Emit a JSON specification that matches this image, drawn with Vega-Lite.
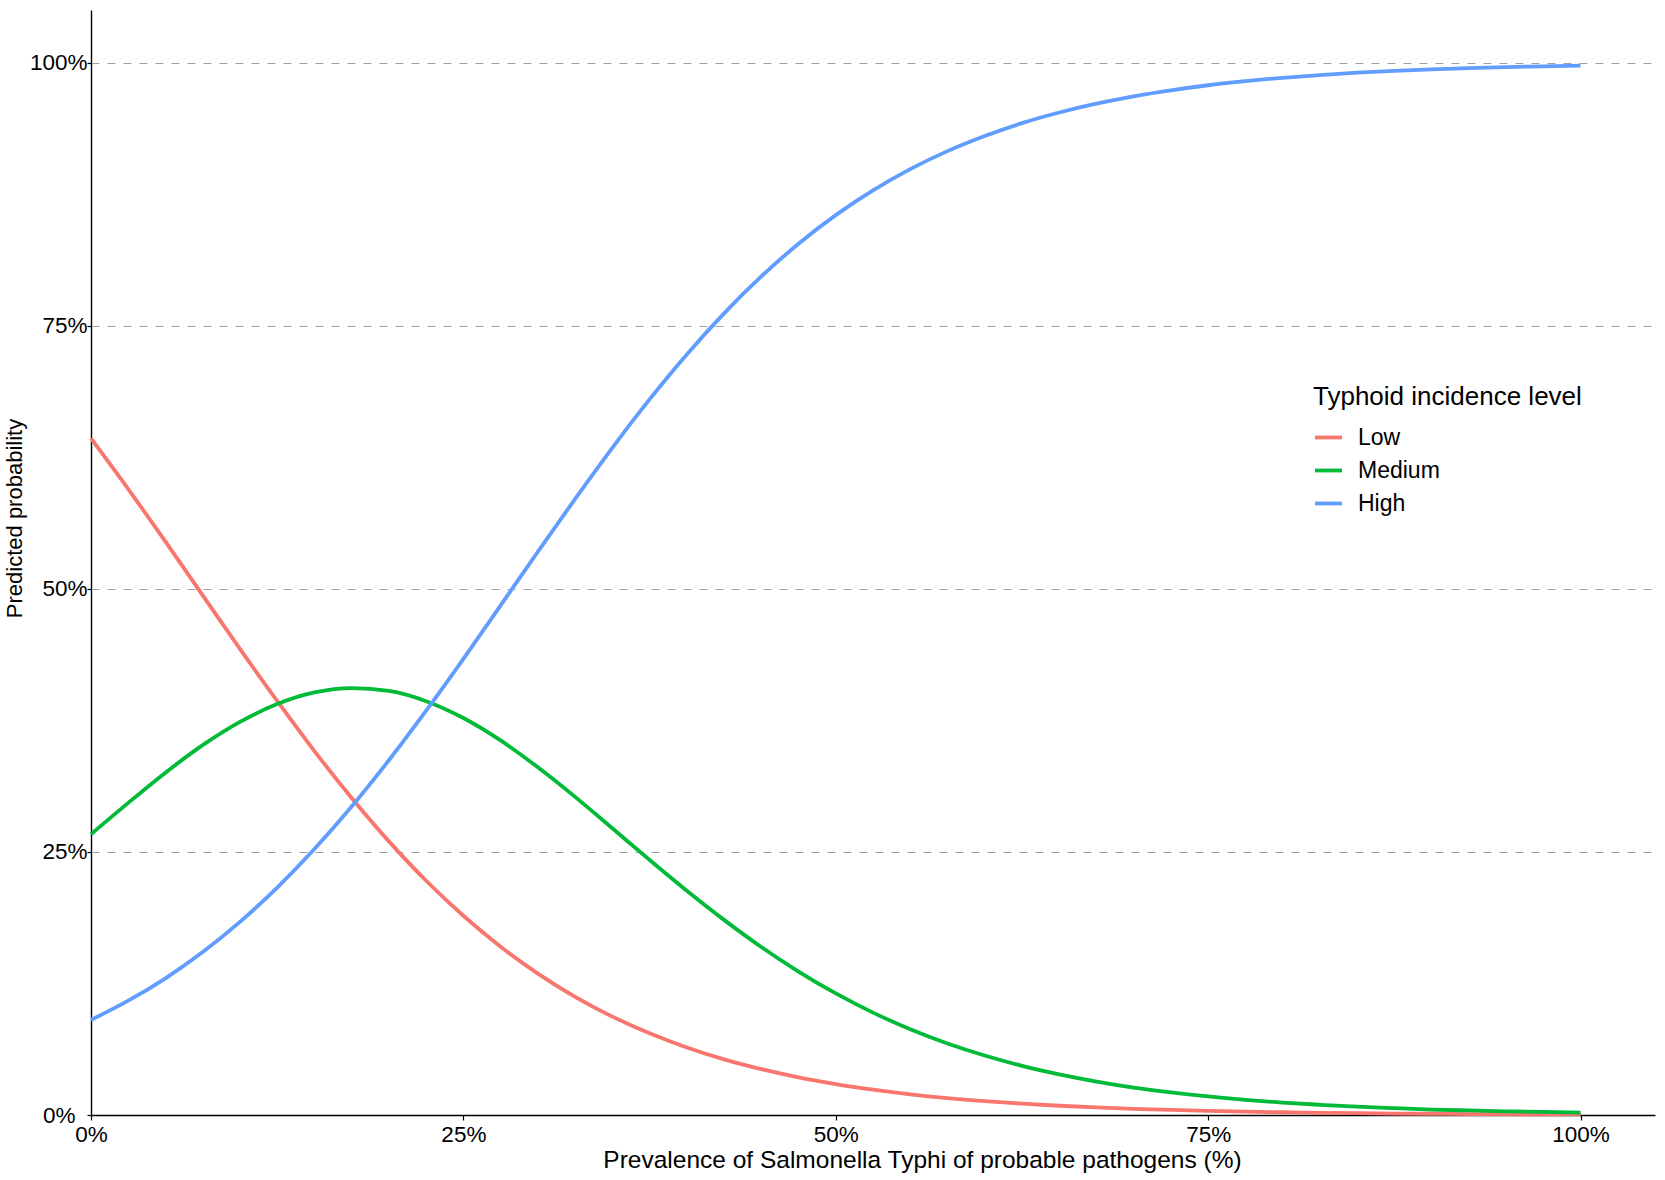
{
  "$schema": "https://vega.github.io/schema/vega-lite/v6.json",
  "width": 1564,
  "height": 1105,
  "autosize": {"type": "none"},
  "padding": {"left": 91, "top": 10, "right": 10, "bottom": 65},
  "background": "white",
  "config": {
    "view": {"stroke": null},
    "font": "Liberation Sans",
    "axis": {
      "domainColor": "black",
      "domainWidth": 1.4,
      "tickColor": "black",
      "tickWidth": 1.2,
      "labelColor": "black",
      "labelFontSize": 22.5,
      "labelFlush": false,
      "titleColor": "black",
      "titleFontSize": 22,
      "titleFontWeight": "normal"
    }
  },
  "data": {
    "values": [
      {"x": 0, "level": "Low", "p": 0.6429}, {"x": 0, "level": "Medium", "p": 0.2668}, {"x": 0, "level": "High", "p": 0.0903},
      {"x": 0.025, "level": "Low", "p": 0.5948}, {"x": 0.025, "level": "Medium", "p": 0.2966}, {"x": 0.025, "level": "High", "p": 0.1086},
      {"x": 0.05, "level": "Low", "p": 0.5448}, {"x": 0.05, "level": "Medium", "p": 0.3253}, {"x": 0.05, "level": "High", "p": 0.1299},
      {"x": 0.075, "level": "Low", "p": 0.4938}, {"x": 0.075, "level": "Medium", "p": 0.3514}, {"x": 0.075, "level": "High", "p": 0.1548},
      {"x": 0.1, "level": "Low", "p": 0.443}, {"x": 0.1, "level": "Medium", "p": 0.3735}, {"x": 0.1, "level": "High", "p": 0.1835},
      {"x": 0.125, "level": "Low", "p": 0.3934}, {"x": 0.125, "level": "Medium", "p": 0.3905}, {"x": 0.125, "level": "High", "p": 0.2161},
      {"x": 0.15, "level": "Low", "p": 0.3458}, {"x": 0.15, "level": "Medium", "p": 0.4015}, {"x": 0.15, "level": "High", "p": 0.2527},
      {"x": 0.175, "level": "Low", "p": 0.3012}, {"x": 0.175, "level": "Medium", "p": 0.4057}, {"x": 0.175, "level": "High", "p": 0.2931},
      {"x": 0.2, "level": "Low", "p": 0.26}, {"x": 0.2, "level": "Medium", "p": 0.4029}, {"x": 0.2, "level": "High", "p": 0.3371},
      {"x": 0.225, "level": "Low", "p": 0.2226}, {"x": 0.225, "level": "Medium", "p": 0.3932}, {"x": 0.225, "level": "High", "p": 0.3842},
      {"x": 0.25, "level": "Low", "p": 0.1893}, {"x": 0.25, "level": "Medium", "p": 0.3772}, {"x": 0.25, "level": "High", "p": 0.4335},
      {"x": 0.275, "level": "Low", "p": 0.1599}, {"x": 0.275, "level": "Medium", "p": 0.3559}, {"x": 0.275, "level": "High", "p": 0.4842},
      {"x": 0.3, "level": "Low", "p": 0.1344}, {"x": 0.3, "level": "Medium", "p": 0.3304}, {"x": 0.3, "level": "High", "p": 0.5352},
      {"x": 0.325, "level": "Low", "p": 0.1123}, {"x": 0.325, "level": "Medium", "p": 0.3023}, {"x": 0.325, "level": "High", "p": 0.5854},
      {"x": 0.35, "level": "Low", "p": 0.0935}, {"x": 0.35, "level": "Medium", "p": 0.2725}, {"x": 0.35, "level": "High", "p": 0.634},
      {"x": 0.375, "level": "Low", "p": 0.0776}, {"x": 0.375, "level": "Medium", "p": 0.2424}, {"x": 0.375, "level": "High", "p": 0.68},
      {"x": 0.4, "level": "Low", "p": 0.0642}, {"x": 0.4, "level": "Medium", "p": 0.2131}, {"x": 0.4, "level": "High", "p": 0.7227},
      {"x": 0.425, "level": "Low", "p": 0.0529}, {"x": 0.425, "level": "Medium", "p": 0.1854}, {"x": 0.425, "level": "High", "p": 0.7617},
      {"x": 0.45, "level": "Low", "p": 0.0436}, {"x": 0.45, "level": "Medium", "p": 0.1596}, {"x": 0.45, "level": "High", "p": 0.7968},
      {"x": 0.475, "level": "Low", "p": 0.0358}, {"x": 0.475, "level": "Medium", "p": 0.1363}, {"x": 0.475, "level": "High", "p": 0.8279},
      {"x": 0.5, "level": "Low", "p": 0.0294}, {"x": 0.5, "level": "Medium", "p": 0.1155}, {"x": 0.5, "level": "High", "p": 0.8551},
      {"x": 0.525, "level": "Low", "p": 0.0241}, {"x": 0.525, "level": "Medium", "p": 0.0973}, {"x": 0.525, "level": "High", "p": 0.8786},
      {"x": 0.55, "level": "Low", "p": 0.0197}, {"x": 0.55, "level": "Medium", "p": 0.0815}, {"x": 0.55, "level": "High", "p": 0.8988},
      {"x": 0.575, "level": "Low", "p": 0.0161}, {"x": 0.575, "level": "Medium", "p": 0.068}, {"x": 0.575, "level": "High", "p": 0.9159},
      {"x": 0.6, "level": "Low", "p": 0.0132}, {"x": 0.6, "level": "Medium", "p": 0.0565}, {"x": 0.6, "level": "High", "p": 0.9303},
      {"x": 0.625, "level": "Low", "p": 0.0108}, {"x": 0.625, "level": "Medium", "p": 0.0467}, {"x": 0.625, "level": "High", "p": 0.9425},
      {"x": 0.65, "level": "Low", "p": 0.0088}, {"x": 0.65, "level": "Medium", "p": 0.0386}, {"x": 0.65, "level": "High", "p": 0.9526},
      {"x": 0.675, "level": "Low", "p": 0.0072}, {"x": 0.675, "level": "Medium", "p": 0.0318}, {"x": 0.675, "level": "High", "p": 0.961},
      {"x": 0.7, "level": "Low", "p": 0.0059}, {"x": 0.7, "level": "Medium", "p": 0.0261}, {"x": 0.7, "level": "High", "p": 0.968},
      {"x": 0.725, "level": "Low", "p": 0.0048}, {"x": 0.725, "level": "Medium", "p": 0.0215}, {"x": 0.725, "level": "High", "p": 0.9737},
      {"x": 0.75, "level": "Low", "p": 0.0039}, {"x": 0.75, "level": "Medium", "p": 0.0176}, {"x": 0.75, "level": "High", "p": 0.9785},
      {"x": 0.775, "level": "Low", "p": 0.0032}, {"x": 0.775, "level": "Medium", "p": 0.0144}, {"x": 0.775, "level": "High", "p": 0.9824},
      {"x": 0.8, "level": "Low", "p": 0.0026}, {"x": 0.8, "level": "Medium", "p": 0.0118}, {"x": 0.8, "level": "High", "p": 0.9856},
      {"x": 0.825, "level": "Low", "p": 0.0021}, {"x": 0.825, "level": "Medium", "p": 0.0097}, {"x": 0.825, "level": "High", "p": 0.9882},
      {"x": 0.85, "level": "Low", "p": 0.0017}, {"x": 0.85, "level": "Medium", "p": 0.0079}, {"x": 0.85, "level": "High", "p": 0.9904},
      {"x": 0.875, "level": "Low", "p": 0.0014}, {"x": 0.875, "level": "Medium", "p": 0.0065}, {"x": 0.875, "level": "High", "p": 0.9921},
      {"x": 0.9, "level": "Low", "p": 0.0012}, {"x": 0.9, "level": "Medium", "p": 0.0052}, {"x": 0.9, "level": "High", "p": 0.9936},
      {"x": 0.925, "level": "Low", "p": 0.0009}, {"x": 0.925, "level": "Medium", "p": 0.0043}, {"x": 0.925, "level": "High", "p": 0.9948},
      {"x": 0.95, "level": "Low", "p": 0.0008}, {"x": 0.95, "level": "Medium", "p": 0.0035}, {"x": 0.95, "level": "High", "p": 0.9957},
      {"x": 0.975, "level": "Low", "p": 0.0006}, {"x": 0.975, "level": "Medium", "p": 0.0029}, {"x": 0.975, "level": "High", "p": 0.9965},
      {"x": 1, "level": "Low", "p": 0.0005}, {"x": 1, "level": "Medium", "p": 0.0023}, {"x": 1, "level": "High", "p": 0.9972}
    ]
  },
  "mark": {"type": "line", "strokeWidth": 3.8, "interpolate": "monotone"},
  "encoding": {
    "x": {
      "field": "x",
      "type": "quantitative",
      "scale": {"domain": [0, 1.05], "nice": false, "zero": false},
      "axis": {
        "values": [0, 0.25, 0.5, 0.75, 1],
        "format": ".0%",
        "grid": false,
        "tickSize": 5,
        "labelPadding": 3,
        "labelDx": 5,
        "title": "Prevalence of Salmonella Typhi of probable pathogens (%)",
        "titleFontSize": 24.5,
        "titleX": 831,
        "titleY": 52,
        "titleBaseline": "alphabetic"
      }
    },
    "y": {
      "field": "p",
      "type": "quantitative",
      "scale": {"domain": [0, 1.05], "nice": false},
      "axis": {
        "values": [0, 0.25, 0.5, 0.75, 1],
        "format": ".0%",
        "grid": true,
        "gridColor": "#a0a0a0",
        "gridDash": [8, 8],
        "gridWidth": 1.2,
        "tickSize": 4,
        "labelPadding": {"condition": {"test": "datum.value === 0", "value": 12}, "value": 0},
        "title": "Predicted probability",
        "titleAngle": -90,
        "titleX": -70,
        "titleY": 508,
        "titleAlign": "center",
        "titleBaseline": "alphabetic"
      }
    },
    "color": {
      "field": "level",
      "type": "nominal",
      "scale": {"domain": ["Low", "Medium", "High"], "range": ["#F8766D", "#00BA38", "#619CFF"]},
      "legend": {
        "title": "Typhoid incidence level",
        "orient": "none",
        "legendX": 1222,
        "legendY": 374,
        "titleFontSize": 26,
        "titleFontWeight": "normal",
        "titleColor": "black",
        "titleLimit": 500,
        "titlePadding": 12,
        "labelFontSize": 23,
        "labelColor": "black",
        "labelLimit": 300,
        "labelOffset": 14,
        "symbolType": "stroke",
        "symbolSize": 729,
        "symbolStrokeWidth": 3.8,
        "rowPadding": 5
      }
    }
  }
}
